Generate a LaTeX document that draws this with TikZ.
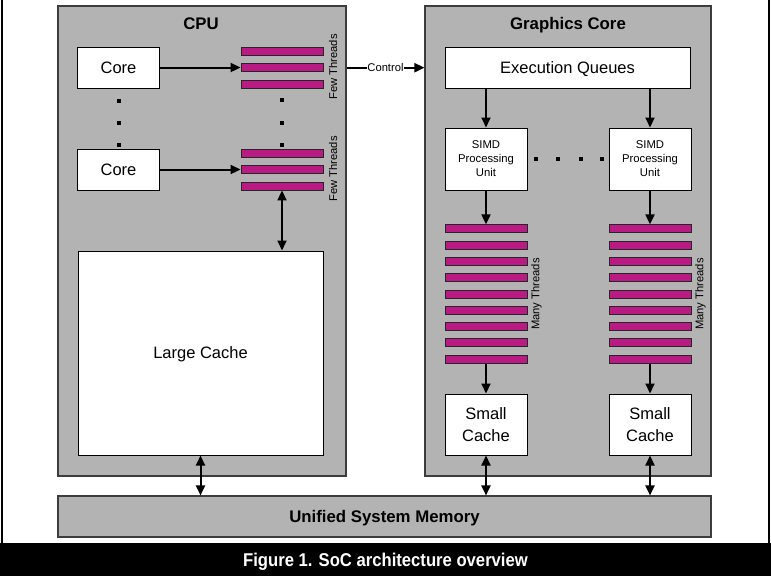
\documentclass[tikz,border=0pt]{standalone}
\usepackage{fontspec}
\setmainfont{Liberation Sans}
\usetikzlibrary{arrows.meta,calc}
\definecolor{boxgray}{RGB}{179,179,179}
\definecolor{thread}{RGB}{186,26,132}
\definecolor{edgegray}{RGB}{60,60,60}
\tikzset{
  graybox/.style={draw=edgegray,line width=1.1pt,fill=boxgray,inner sep=0pt},
  whitebox/.style={draw=black,line width=1pt,fill=white,inner sep=0pt,align=center},
  bigtxt/.style={font=\fontsize{16.5}{21.5}\selectfont},
  flat/.style={text depth=0pt},
  simdtxt/.style={font=\fontsize{11.3}{14}\selectfont},
  smalltxt/.style={font=\fontsize{11.2}{13}\selectfont},
  titletxt/.style={font=\fontsize{16.8}{19}\selectfont\bfseries,text depth=0pt},
  threadbar/.style={draw=black!85,line width=0.9pt,fill=thread,minimum width=82pt,minimum height=8pt,inner sep=0pt},
  dotmark/.style={fill=black,minimum size=4pt,inner sep=0pt},
  arr/.style={line width=2pt,-{Triangle[length=10pt,width=9pt]}},
  darr/.style={line width=2pt,{Triangle[length=10pt,width=9pt]}-{Triangle[length=10pt,width=9pt]}},
}
\begin{document}
\begin{tikzpicture}[x=1pt,y=-1pt]
\useasboundingbox (0,0) rectangle (771,576);
% frame and caption band
\fill[black] (0,543) rectangle (771,576);
\draw[line width=1.3pt] (2,0) -- (2,543);
\draw[line width=1.3pt] (769,0) -- (769,543);
\node[text=white,font=\fontsize{18.5}{20}\selectfont\bfseries,text depth=0pt] (caption) at (385.5,559.5) {\scalebox{0.9}[1]{Figure 1. SoC architecture overview}};

% main containers
\node[graybox,minimum width=288pt,minimum height=470pt] (cpu) at (202,241) {};
\node[graybox,minimum width=286pt,minimum height=470pt] (gc) at (568,241) {};
\node[graybox,minimum width=653pt,minimum height=41pt,titletxt] (mem) at (384.5,516.5) {Unified System Memory};
\node[titletxt] (cputitle) at (201,23.5) {CPU};
\node[titletxt] (gctitle) at (568,23.5) {Graphics Core};

% CPU side
\node[whitebox,minimum width=82pt,minimum height=41pt,bigtxt,flat] (core1) at (118.5,67.5) {Core};
\node[whitebox,minimum width=82pt,minimum height=41pt,bigtxt,flat] (core2) at (118.5,169.5) {Core};
\node[dotmark] (cd1) at (118.7,100.7) {};
\node[dotmark] (cd2) at (118.7,122.7) {};
\node[dotmark] (cd3) at (118.7,145.3) {};

\node[threadbar] (ta1) at (282,51.3) {};
\node[threadbar] (ta2) at (282,67.7) {};
\node[threadbar] (ta3) at (282,84) {};
\node[threadbar] (tb1) at (282,153) {};
\node[threadbar] (tb2) at (282,169.8) {};
\node[threadbar] (tb3) at (282,186) {};
\node[dotmark] (td1) at (281.7,100.3) {};
\node[dotmark] (td2) at (281.7,122.7) {};
\node[dotmark] (td3) at (281.7,145.3) {};
\node[smalltxt,rotate=90] (fewa) at (333,67) {Few Threads};
\node[smalltxt,rotate=90] (fewb) at (333,169) {Few Threads};

\node[whitebox,minimum width=245pt,minimum height=204pt,bigtxt,flat] (lc) at (200.5,353) {Large Cache};

% Graphics side
\node[whitebox,minimum width=245pt,minimum height=41pt,bigtxt,flat] (eq) at (567.5,67.5) {Execution Queues};
\node[whitebox,minimum width=82pt,minimum height=62pt,simdtxt] (simd1) at (486,159) {SIMD\\Processing\\Unit};
\node[whitebox,minimum width=82pt,minimum height=62pt,simdtxt] (simd2) at (650,159) {SIMD\\Processing\\Unit};
\node[dotmark] (sd1) at (535.7,159) {};
\node[dotmark] (sd2) at (558,159) {};
\node[dotmark] (sd3) at (580.7,159) {};
\node[dotmark] (sd4) at (602.3,159) {};

\foreach \i in {1,...,9}{
  \node[threadbar] (ml\i) at (486,{228.8+16.3*(\i-1)}) {};
  \node[threadbar] (mr\i) at (650,{228.8+16.3*(\i-1)}) {};
}
\node[smalltxt,rotate=90] (manyl) at (536.5,294) {Many Threads};
\node[smalltxt,rotate=90] (manyr) at (700.5,294) {Many Threads};

\node[whitebox,minimum width=82pt,minimum height=61pt,bigtxt] (sc1) at (486,424.5) {Small\\Cache};
\node[whitebox,minimum width=82pt,minimum height=61pt,bigtxt] (sc2) at (650,424.5) {Small\\Cache};

% connectors
\draw[arr] (core1.east) -- (core1.east -| ta2.west);
\draw[arr] (core2.east) -- (core2.east -| tb2.west);
\draw[arr] (cpu.east |- ta2) -- node[fill=white,inner sep=0.3pt,smalltxt] (ctl) {Control} (gc.west |- ta2);
\draw[darr] (tb3.south) -- (tb3.south |- lc.north);
\draw[darr] (lc.south) -- (lc.south |- mem.north);
\draw[arr] (eq.south -| simd1) -- (simd1.north);
\draw[arr] (eq.south -| simd2) -- (simd2.north);
\draw[arr] (simd1.south) -- (ml1.north);
\draw[arr] (simd2.south) -- (mr1.north);
\draw[arr] (ml9.south) -- (sc1.north);
\draw[arr] (mr9.south) -- (sc2.north);
\draw[darr] (sc1.south) -- (sc1.south |- mem.north);
\draw[darr] (sc2.south) -- (sc2.south |- mem.north);
\end{tikzpicture}
\end{document}
